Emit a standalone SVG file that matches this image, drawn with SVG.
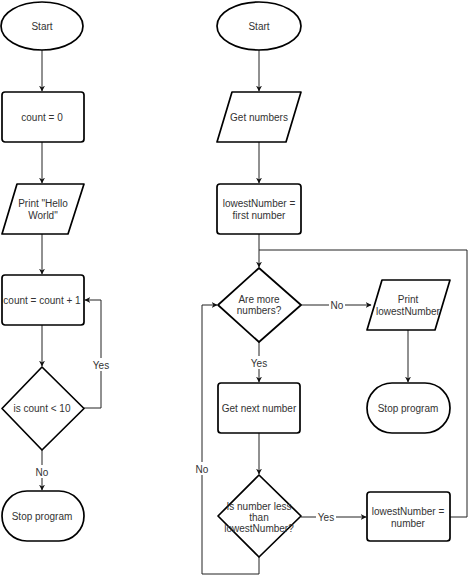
<svg xmlns="http://www.w3.org/2000/svg" width="474" height="582" viewBox="0 0 474 582">
<defs>
<marker id="arr" viewBox="0 0 10 10" refX="9" refY="5" markerWidth="6" markerHeight="6" orient="auto" markerUnits="userSpaceOnUse">
<path d="M0,0 L10,5 L0,10 L3,5 Z" fill="#111"/>
</marker>
</defs>
<style>
.n{fill:#fff;stroke:#000;stroke-width:1.7;stroke-linejoin:round}
.t{font-family:"Liberation Sans",Arial,sans-serif;font-size:10px;fill:#333;text-anchor:middle}
.e{fill:none;stroke:#222;stroke-width:1}
.lb{fill:#fff}
</style>
<rect width="474" height="582" fill="#fff"/>
<g id="connectors">
<path class="e" d="M42,50 V91" marker-end="url(#arr)"/>
<path class="e" d="M42,142 V183" marker-end="url(#arr)"/>
<path class="e" d="M42,234 V274" marker-end="url(#arr)"/>
<path class="e" d="M42,325 V366" marker-end="url(#arr)"/>
<path class="e" d="M84,408 H101 V300 H85" marker-end="url(#arr)"/>
<path class="e" d="M42,450 V490" marker-end="url(#arr)"/>
<path class="e" d="M259,50 V91" marker-end="url(#arr)"/>
<path class="e" d="M259,142 V183" marker-end="url(#arr)"/>
<path class="e" d="M259,234 V267" marker-end="url(#arr)"/>
<path class="e" d="M301,305 H371" marker-end="url(#arr)"/>
<path class="e" d="M408,330 V382" marker-end="url(#arr)"/>
<path class="e" d="M259,342 V382" marker-end="url(#arr)"/>
<path class="e" d="M259,433 V474" marker-end="url(#arr)"/>
<path class="e" d="M301,517 H366" marker-end="url(#arr)"/>
<path class="e" d="M450,517 H467 V250 H259"/>
<path class="e" d="M259,557 V574 H202 V305 H217" marker-end="url(#arr)"/>
<rect class="lb" x="91" y="358" width="20" height="13"/>
<text class="t" x="101" y="368.5">Yes</text>
<rect class="lb" x="34" y="465" width="16" height="13"/>
<text class="t" x="42" y="475.5">No</text>
<rect class="lb" x="329" y="298" width="16" height="13"/>
<text class="t" x="337" y="308.5">No</text>
<rect class="lb" x="249" y="356" width="20" height="13"/>
<text class="t" x="259" y="366.5">Yes</text>
<rect class="lb" x="316" y="510" width="20" height="13"/>
<text class="t" x="326" y="520.5">Yes</text>
<rect class="lb" x="194" y="462" width="16" height="13"/>
<text class="t" x="202" y="472.5">No</text>
</g>
<g id="start1">
<ellipse class="n" cx="42" cy="26" rx="41" ry="24"/>
<text class="t" x="42" y="29.5">Start</text>
</g>
<g id="count0">
<rect class="n" x="2" y="92" width="82" height="50" rx="3"/>
<text class="t" x="42" y="120.5">count = 0</text>
</g>
<g id="printHello">
<path class="n" d="M17,184 H84 L68,234 H2 Z"/>
<text class="t" x="43" y="206.5">Print "Hello</text>
<text class="t" x="43" y="218.5">World"</text>
</g>
<g id="countInc">
<rect class="n" x="2" y="275" width="82" height="50" rx="3"/>
<text class="t" x="42" y="303.5">count = count + 1</text>
</g>
<g id="isCount">
<path class="n" d="M42,367 L84,408.5 L42,450 L2,408.5 Z"/>
<text class="t" x="42" y="412">is count &lt; 10</text>
</g>
<g id="stop1">
<rect class="n" x="2" y="491" width="82" height="50" rx="25"/>
<text class="t" x="42" y="519.5">Stop program</text>
</g>
<g id="start2">
<ellipse class="n" cx="259" cy="26" rx="42" ry="24"/>
<text class="t" x="259" y="29.5">Start</text>
</g>
<g id="getNumbers">
<path class="n" d="M232,92 H301 L286,142 H217 Z"/>
<text class="t" x="259" y="120.5">Get numbers</text>
</g>
<g id="lowestFirst">
<rect class="n" x="217" y="184" width="84" height="50" rx="3"/>
<text class="t" x="259" y="206.5">lowestNumber =</text>
<text class="t" x="259" y="218.5">first number</text>
</g>
<g id="areMore">
<path class="n" d="M259,268 L301,305 L259,342 L218,305 Z"/>
<text class="t" x="259" y="302.5">Are more</text>
<text class="t" x="259" y="313.5">numbers?</text>
</g>
<g id="printLowest">
<path class="n" d="M382,280 H450 L435,330 H367 Z"/>
<text class="t" x="408" y="302.5">Print</text>
<text class="t" x="408" y="314.5">lowestNumber</text>
</g>
<g id="stop2">
<rect class="n" x="367" y="383" width="83" height="50" rx="25"/>
<text class="t" x="408" y="411.5">Stop program</text>
</g>
<g id="getNext">
<rect class="n" x="218" y="383" width="82" height="50" rx="3"/>
<text class="t" x="259" y="411.5">Get next number</text>
</g>
<g id="isLess">
<path class="n" d="M259,475 L301,516 L259,557 L218,516 Z"/>
<text class="t" x="259" y="509.5">Is number less</text>
<text class="t" x="259" y="520.5">than</text>
<text class="t" x="259" y="532">lowestNumber?</text>
</g>
<g id="lowestNum">
<rect class="n" x="367" y="492" width="83" height="49" rx="3"/>
<text class="t" x="408" y="515">lowestNumber =</text>
<text class="t" x="408" y="527">number</text>
</g>
</svg>
